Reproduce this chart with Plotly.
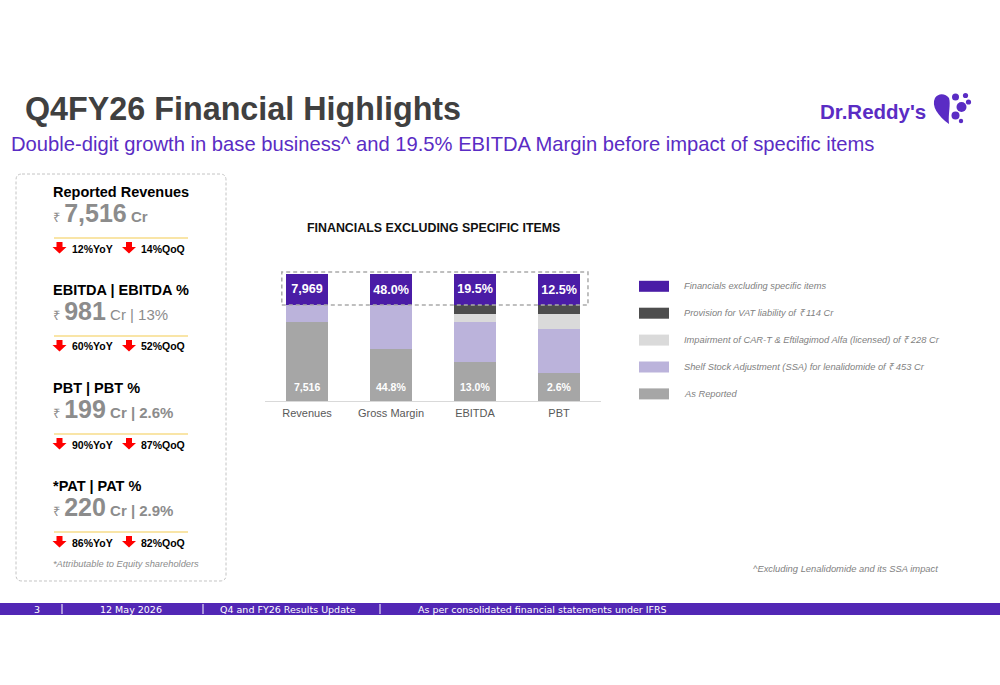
import plotly.graph_objects as go

# ---------------- data ----------------
categories = ["Revenues", "Gross Margin", "EBITDA", "PBT"]
# visual segment heights (share of bar height)
seg_reported = [62.2, 40.9, 30.7, 22.0]
seg_ssa = [13.4, 34.6, 31.5, 34.6]
seg_impairment = [0, 0, 6.3, 11.8]
seg_vat = [0, 0, 7.1, 7.1]
seg_excl = [24.4, 24.4, 24.4, 24.4]
labels_excl = ["7,969", "48.0%", "19.5%", "12.5%"]
labels_reported = ["7,516", "44.8%", "13.0%", "2.6%"]

legend_names = [
    "Financials excluding specific items",
    "Provision for VAT liability of ₹ 114 Cr",
    "Impairment of CAR-T & Eftilagimod Alfa (licensed) of ₹ 228 Cr",
    "Shelf Stock Adjustment (SSA) for lenalidomide of ₹ 453 Cr",
    "As Reported",
]

kpi_titles = ["Reported Revenues", "EBITDA | EBITDA %", "PBT | PBT %", "*PAT | PAT %"]
kpi_values = ["7,516", "981", "199", "220"]
kpi_suffix = ["Cr", "Cr | 13%", "Cr | 2.6%", "Cr | 2.9%"]
kpi_suffix_bold = [True, False, True, True]
kpi_yoy = ["12%YoY", "60%YoY", "90%YoY", "86%YoY"]
kpi_qoq = ["14%QoQ", "52%QoQ", "87%QoQ", "82%QoQ"]

footer_items = ["3", "12 May 2026", "Q4 and FY26 Results Update",
                "As per consolidated financial statements under IFRS"]

# ---------------- styles ----------------
W, H = 1000, 685
FONT = "Liberation Sans, Arial, sans-serif"
C_PURPLE = "#4a1ca6"
C_TEXT_PURPLE = "#5a2cc4"
C_DARK = "#4d4d4d"
C_LIGHT = "#dadada"
C_LAV = "#bbb3db"
C_GREY = "#a6a6a6"
C_FOOT = "#5227b5"


def X(px):
    return px / W


def Y(py):
    return 1 - py / H


fig = go.Figure()

seg_series = [
    (seg_reported, C_GREY, legend_names[4]),
    (seg_ssa, C_LAV, legend_names[3]),
    (seg_impairment, C_LIGHT, legend_names[2]),
    (seg_vat, C_DARK, legend_names[1]),
    (seg_excl, C_PURPLE, legend_names[0]),
]
for vals, col, name in seg_series:
    kw = {}
    if name == legend_names[0]:
        kw = dict(text=["<b>%s</b>" % t for t in labels_excl], textposition="inside",
                  insidetextanchor="middle",
                  textfont=dict(color="white", size=12.6, family=FONT))
    fig.add_trace(go.Bar(x=categories, y=vals, name=name, marker=dict(color=col, line=dict(width=0)),
                         width=0.5, showlegend=False, constraintext="none", **kw))

YMAX = 104
fig.update_layout(
    width=W, height=H, margin=dict(l=0, r=0, t=0, b=0),
    paper_bgcolor="white", plot_bgcolor="white",
    barmode="stack", bargap=0.5,
    font=dict(family=FONT),
    xaxis=dict(domain=[X(265), X(601)], showline=True, linecolor="#d9d9d9", linewidth=1,
               tickfont=dict(size=11, color="#595959", family=FONT), showgrid=False,
               ticks="", ticklabelstandoff=2, fixedrange=True),
    yaxis=dict(domain=[Y(401), Y(401 - 1.27 * YMAX)], range=[0, YMAX], visible=False,
               showgrid=False, fixedrange=True),
)

shapes = []
annotations = []

# "as reported" labels at the bottom of each bar
for c, t in zip(categories, labels_reported):
    annotations.append(dict(xref="x", yref="y", x=c, y=0, yanchor="bottom", yshift=6,
                            text="<b>%s</b>" % t, showarrow=False,
                            font=dict(size=10.5, color="white", family=FONT)))

# dashed box around the "excluding" segment
shapes.append(dict(type="rect", xref="x", yref="y", x0=-0.3, x1=3.345,
                   y0=100 - seg_excl[0], y1=101.6,
                   line=dict(color="#ababab", width=1.5, dash="4px,3px"), fillcolor="rgba(0,0,0,0)",
                   layer="above"))

# chart title
annotations.append(dict(xref="paper", yref="paper", x=X(433), y=Y(227.5), xanchor="center", yanchor="middle",
                        text="<b>FINANCIALS EXCLUDING SPECIFIC ITEMS</b>", showarrow=False,
                        font=dict(size=12.4, color="#111111", family=FONT)))

# legend (custom)
leg_cols = [C_PURPLE, C_DARK, C_LIGHT, C_LAV, C_GREY]
for i, (nm, col) in enumerate(zip(legend_names, leg_cols)):
    cy = 286.3 + i * 26.9
    shapes.append(dict(type="rect", xref="paper", yref="paper", x0=X(639), x1=X(669),
                       y0=Y(cy + 5.5), y1=Y(cy - 5.5), fillcolor=col, line=dict(width=0)))
    annotations.append(dict(xref="paper", yref="paper", x=X(682), y=Y(cy), xanchor="left", yanchor="middle",
                            text="<i>%s</i>" % nm, showarrow=False,
                            font=dict(size=9.3, color="#7f7f7f", family=FONT)))

# slide title & subtitle
annotations.append(dict(xref="paper", yref="paper", x=X(23), y=Y(108.5), xanchor="left", yanchor="middle",
                        text="<b>Q4FY26 Financial Highlights</b>", showarrow=False,
                        font=dict(size=32.3, color="#404040", family=FONT)))
annotations.append(dict(xref="paper", yref="paper", x=X(9), y=Y(143.5), xanchor="left", yanchor="middle",
                        text="Double-digit growth in base business^ and 19.5% EBITDA Margin before impact of specific items",
                        showarrow=False, font=dict(size=20.2, color=C_TEXT_PURPLE, family=FONT)))

# logo
annotations.append(dict(xref="paper", yref="paper", x=X(928), y=Y(111.5), xanchor="right", yanchor="middle",
                        text="<b>Dr.Reddy's</b>", showarrow=False,
                        font=dict(size=20.5, color=C_TEXT_PURPLE, family=FONT)))
shapes.append(dict(type="path", xref="paper", yref="paper",
                   path="M %f %f C %f %f %f %f %f %f C %f %f %f %f %f %f C %f %f %f %f %f %f Z" % (
                       X(949), Y(124),
                       X(938), Y(116), X(931), Y(106), X(935), Y(98),
                       X(939), Y(92), X(946), Y(94), X(949), Y(98),
                       X(951), Y(104), X(948), Y(114), X(949), Y(124)),
                   fillcolor=C_TEXT_PURPLE, line=dict(width=0)))
for cx, cy, r in [(961.5, 107, 5), (955.5, 97, 3.5), (965.5, 95.5, 2.6), (968.5, 102, 2.6), (955.5, 115.5, 4), (961, 121, 2.2)]:
    shapes.append(dict(type="circle", xref="paper", yref="paper", x0=X(cx - r), x1=X(cx + r),
                       y0=Y(cy + r), y1=Y(cy - r), fillcolor=C_TEXT_PURPLE, line=dict(width=0)))

# left KPI box (rounded dashed)
bx0, bx1, by0, by1, rr = 16, 226, 174, 581, 6
box_path = ("M %f %f L %f %f Q %f %f %f %f L %f %f Q %f %f %f %f L %f %f Q %f %f %f %f L %f %f Q %f %f %f %f Z" % (
    X(bx0 + rr), Y(by0), X(bx1 - rr), Y(by0), X(bx1), Y(by0), X(bx1), Y(by0 + rr),
    X(bx1), Y(by1 - rr), X(bx1), Y(by1), X(bx1 - rr), Y(by1),
    X(bx0 + rr), Y(by1), X(bx0), Y(by1), X(bx0), Y(by1 - rr),
    X(bx0), Y(by0 + rr), X(bx0), Y(by0), X(bx0 + rr), Y(by0)))
shapes.append(dict(type="path", xref="paper", yref="paper", path=box_path,
                   line=dict(color="#c4c4c4", width=1, dash="3px,2px"), fillcolor="rgba(0,0,0,0)"))


def down_arrow(x0, y0):
    # x0,y0 top-left of arrow bounding box in pixels; 13 wide, 11 tall
    pts = [(x0 + 3.5, y0), (x0 + 9.5, y0), (x0 + 9.5, y0 + 5), (x0 + 13.5, y0 + 5),
           (x0 + 6.5, y0 + 11.5), (x0 - 0.5, y0 + 5), (x0 + 3.5, y0 + 5)]
    p = "M " + " L ".join("%f %f" % (X(a), Y(b)) for a, b in pts) + " Z"
    return dict(type="path", xref="paper", yref="paper", path=p, fillcolor="#ff0000", line=dict(width=0))


for i in range(4):
    base = 197 + i * 98
    annotations.append(dict(xref="paper", yref="paper", x=X(51), y=Y(base - 5), xanchor="left", yanchor="middle",
                            text="<b>%s</b>" % kpi_titles[i], showarrow=False,
                            font=dict(size=14.5, color="#000000", family=FONT)))
    suf = "<b>%s</b>" % kpi_suffix[i] if kpi_suffix_bold[i] else kpi_suffix[i]
    annotations.append(dict(xref="paper", yref="paper", x=X(51), y=Y(base + 16), xanchor="left", yanchor="middle",
                            text="<span style='font-size:13px'>₹</span> <b><span style='font-size:25px'>%s</span></b> %s" % (kpi_values[i], suf),
                            showarrow=False, font=dict(size=15, color="#8c8c8c", family=FONT)))
    ly = 238 + i * 98
    shapes.append(dict(type="line", xref="paper", yref="paper", x0=X(54), x1=X(188), y0=Y(ly), y1=Y(ly),
                       line=dict(color="#f7dc8a", width=1.5)))
    ay = 248.5 + i * 98
    shapes.append(down_arrow(53, ay - 6.5))
    shapes.append(down_arrow(122.5, ay - 6.5))
    annotations.append(dict(xref="paper", yref="paper", x=X(70), y=Y(ay), xanchor="left", yanchor="middle",
                            text="<b>%s</b>" % kpi_yoy[i], showarrow=False,
                            font=dict(size=10.5, color="#000000", family=FONT)))
    annotations.append(dict(xref="paper", yref="paper", x=X(138.5), y=Y(ay), xanchor="left", yanchor="middle",
                            text="<b>%s</b>" % kpi_qoq[i], showarrow=False,
                            font=dict(size=10.5, color="#000000", family=FONT)))

annotations.append(dict(xref="paper", yref="paper", x=X(51), y=Y(564), xanchor="left", yanchor="middle",
                        text="<i>*Attributable to Equity shareholders</i>", showarrow=False,
                        font=dict(size=9.3, color="#8c8c8c", family=FONT)))

# right footnote
annotations.append(dict(xref="paper", yref="paper", x=X(940), y=Y(568), xanchor="right", yanchor="middle",
                        text="<i>^Excluding Lenalidomide and its SSA impact</i>", showarrow=False,
                        font=dict(size=9.4, color="#7f7f7f", family=FONT)))

# footer band
shapes.append(dict(type="rect", xref="paper", yref="paper", x0=0, x1=1, y0=Y(615), y1=Y(603),
                   fillcolor=C_FOOT, line=dict(width=0)))
for sx in [62, 203, 380]:
    shapes.append(dict(type="line", xref="paper", yref="paper", x0=X(sx), x1=X(sx), y0=Y(614), y1=Y(604),
                       line=dict(color="white", width=1)))
foot_x = [37, 131, 288, 542]
for fx, t in zip(foot_x, footer_items):
    annotations.append(dict(xref="paper", yref="paper", x=X(fx), y=Y(609), xanchor="center", yanchor="middle",
                            text=t, showarrow=False,
                            font=dict(size=9.5, color="white", family="DejaVu Sans, Verdana, sans-serif")))

fig.update_layout(shapes=shapes, annotations=annotations)
fig.write_html("out.html")
